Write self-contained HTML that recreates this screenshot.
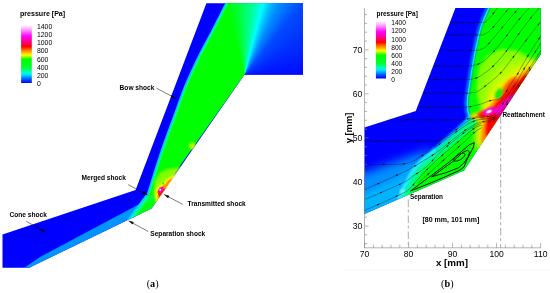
<!DOCTYPE html>
<html><head><meta charset="utf-8"><title>figure</title>
<style>
html,body{margin:0;padding:0;background:#fff;}
svg{display:block}
text{font-family:"Liberation Sans",sans-serif;fill:#000}
.b{font-weight:bold}
.s{font-family:"Liberation Serif",serif}
</style></head><body>
<svg width="550" height="293" viewBox="0 0 550 293">
<defs>
<linearGradient id="lg" x1="0" y1="0" x2="0" y2="1"><stop offset="0" stop-color="#ffffff"/><stop offset="0.09" stop-color="#ff90ff"/><stop offset="0.19" stop-color="#ff00ff"/><stop offset="0.3" stop-color="#ff0070"/><stop offset="0.37" stop-color="#ff0000"/><stop offset="0.45" stop-color="#ff9000"/><stop offset="0.52" stop-color="#ffff00"/><stop offset="0.59" stop-color="#00ff00"/><stop offset="0.74" stop-color="#00ff30"/><stop offset="0.82" stop-color="#00ffd0"/><stop offset="0.86" stop-color="#00e0ff"/><stop offset="0.93" stop-color="#0060ff"/><stop offset="1" stop-color="#0000ff"/></linearGradient>
<clipPath id="ca"><polygon points="206.4,3.2 303.0,3.2 303.0,74.5 244.6,74.5 151.6,208.6 29.2,267.7 2.5,267.7 2.5,234.5 135.6,189.9"/></clipPath>
<clipPath id="cb"><polygon points="455.4,8.0 540.8,8.0 540.8,54.3 464.0,170.6 364.4,214.1 364.4,127.6 415.8,111.1"/></clipPath>
<filter id="b05" x="-20%" y="-20%" width="140%" height="140%"><feGaussianBlur stdDeviation="0.5"/></filter>
<filter id="b1" x="-20%" y="-20%" width="140%" height="140%"><feGaussianBlur stdDeviation="0.8"/></filter>
<filter id="b15" x="-20%" y="-20%" width="140%" height="140%"><feGaussianBlur stdDeviation="1.2"/></filter>
<filter id="b2" x="-20%" y="-20%" width="140%" height="140%"><feGaussianBlur stdDeviation="1.8"/></filter>
<filter id="b3" x="-30%" y="-30%" width="160%" height="160%"><feGaussianBlur stdDeviation="3"/></filter>
<filter id="b5" x="-30%" y="-30%" width="160%" height="160%"><feGaussianBlur stdDeviation="5"/></filter>
<filter id="b8" x="-40%" y="-40%" width="180%" height="180%"><feGaussianBlur stdDeviation="8"/></filter>
<marker id="ar" viewBox="0 0 10 10" refX="9.6" refY="5" markerUnits="userSpaceOnUse" markerWidth="5.8" markerHeight="5.2" orient="auto"><path d="M0,2.4 L10,5 L0,7.6 z" fill="#080808"/></marker>
</defs>
<rect width="550" height="293" fill="#fff"/>

<!-- ============ panel a ============ -->
<g clip-path="url(#ca)">
<rect x="0" y="0" width="320" height="280" fill="#0000ff"/>
<!-- green post-shock region -->
<g filter="url(#b05)">
<polygon points="229.2,-3.0 226.2,3.0 212.5,30.0 199.3,55.0 185.5,85.0 175.5,112.0 164.5,142.0 155.2,170.0 147.5,194.7 152.0,199.0 160.0,192.0 170.0,180.0 244.6,74.5 232.0,-3.0" fill="#00ff00"/>
</g>
<!-- fan in box -->
<g shape-rendering="crispEdges"><polygon points="244.6,74.5 192.8,-118.7 195.5,-119.4" fill="rgb(0,255,1)"/>
<polygon points="244.6,74.5 194.2,-119.0 196.9,-119.7" fill="rgb(0,255,2)"/>
<polygon points="244.6,74.5 195.5,-119.4 198.3,-120.1" fill="rgb(0,255,4)"/>
<polygon points="244.6,74.5 196.9,-119.7 199.6,-120.4" fill="rgb(0,255,6)"/>
<polygon points="244.6,74.5 198.3,-120.1 201.0,-120.7" fill="rgb(0,255,7)"/>
<polygon points="244.6,74.5 199.6,-120.4 202.3,-121.0" fill="rgb(0,255,9)"/>
<polygon points="244.6,74.5 201.0,-120.7 203.7,-121.3" fill="rgb(0,255,12)"/>
<polygon points="244.6,74.5 202.3,-121.0 205.1,-121.6" fill="rgb(0,255,14)"/>
<polygon points="244.6,74.5 203.7,-121.3 206.4,-121.8" fill="rgb(0,255,17)"/>
<polygon points="244.6,74.5 205.1,-121.6 207.8,-122.1" fill="rgb(0,255,19)"/>
<polygon points="244.6,74.5 206.4,-121.8 209.2,-122.3" fill="rgb(0,255,22)"/>
<polygon points="244.6,74.5 207.8,-122.1 210.6,-122.6" fill="rgb(0,255,24)"/>
<polygon points="244.6,74.5 209.2,-122.3 211.9,-122.8" fill="rgb(0,255,26)"/>
<polygon points="244.6,74.5 210.6,-122.6 213.3,-123.0" fill="rgb(0,255,29)"/>
<polygon points="244.6,74.5 211.9,-122.8 214.7,-123.3" fill="rgb(0,255,31)"/>
<polygon points="244.6,74.5 213.3,-123.0 216.1,-123.5" fill="rgb(0,255,34)"/>
<polygon points="244.6,74.5 214.7,-123.3 217.5,-123.6" fill="rgb(0,255,36)"/>
<polygon points="244.6,74.5 216.1,-123.5 218.8,-123.8" fill="rgb(0,255,39)"/>
<polygon points="244.6,74.5 217.5,-123.6 220.2,-124.0" fill="rgb(0,255,41)"/>
<polygon points="244.6,74.5 218.8,-123.8 221.6,-124.2" fill="rgb(0,255,44)"/>
<polygon points="244.6,74.5 220.2,-124.0 223.0,-124.3" fill="rgb(0,255,47)"/>
<polygon points="244.6,74.5 221.6,-124.2 224.4,-124.5" fill="rgb(0,255,50)"/>
<polygon points="244.6,74.5 223.0,-124.3 225.8,-124.6" fill="rgb(0,255,53)"/>
<polygon points="244.6,74.5 224.4,-124.5 227.2,-124.7" fill="rgb(0,255,56)"/>
<polygon points="244.6,74.5 225.8,-124.6 228.6,-124.9" fill="rgb(0,255,59)"/>
<polygon points="244.6,74.5 227.2,-124.7 230.0,-125.0" fill="rgb(0,255,62)"/>
<polygon points="244.6,74.5 228.6,-124.9 231.3,-125.1" fill="rgb(0,255,65)"/>
<polygon points="244.6,74.5 230.0,-125.0 232.7,-125.1" fill="rgb(0,255,69)"/>
<polygon points="244.6,74.5 231.3,-125.1 234.1,-125.2" fill="rgb(0,255,72)"/>
<polygon points="244.6,74.5 232.7,-125.1 235.5,-125.3" fill="rgb(0,255,75)"/>
<polygon points="244.6,74.5 234.1,-125.2 236.9,-125.4" fill="rgb(0,255,78)"/>
<polygon points="244.6,74.5 235.5,-125.3 238.3,-125.4" fill="rgb(0,255,81)"/>
<polygon points="244.6,74.5 236.9,-125.4 239.7,-125.4" fill="rgb(0,255,84)"/>
<polygon points="244.6,74.5 238.3,-125.4 241.1,-125.5" fill="rgb(0,255,87)"/>
<polygon points="244.6,74.5 239.7,-125.4 242.5,-125.5" fill="rgb(0,255,91)"/>
<polygon points="244.6,74.5 241.1,-125.5 243.9,-125.5" fill="rgb(0,255,94)"/>
<polygon points="244.6,74.5 242.5,-125.5 245.3,-125.5" fill="rgb(0,255,97)"/>
<polygon points="244.6,74.5 243.9,-125.5 246.7,-125.5" fill="rgb(0,255,100)"/>
<polygon points="244.6,74.5 245.3,-125.5 248.1,-125.5" fill="rgb(0,255,103)"/>
<polygon points="244.6,74.5 246.7,-125.5 249.5,-125.4" fill="rgb(0,255,106)"/>
<polygon points="244.6,74.5 248.1,-125.5 250.9,-125.4" fill="rgb(0,255,110)"/>
<polygon points="244.6,74.5 249.5,-125.4 252.3,-125.4" fill="rgb(0,255,113)"/>
<polygon points="244.6,74.5 250.9,-125.4 253.7,-125.3" fill="rgb(0,255,116)"/>
<polygon points="244.6,74.5 252.3,-125.4 255.1,-125.2" fill="rgb(0,255,120)"/>
<polygon points="244.6,74.5 253.7,-125.3 256.5,-125.1" fill="rgb(0,255,123)"/>
<polygon points="244.6,74.5 255.1,-125.2 257.9,-125.1" fill="rgb(0,255,126)"/>
<polygon points="244.6,74.5 256.5,-125.1 259.2,-125.0" fill="rgb(0,255,129)"/>
<polygon points="244.6,74.5 257.9,-125.1 260.6,-124.9" fill="rgb(0,255,132)"/>
<polygon points="244.6,74.5 259.2,-125.0 262.0,-124.7" fill="rgb(0,255,136)"/>
<polygon points="244.6,74.5 260.6,-124.9 263.4,-124.6" fill="rgb(0,255,139)"/>
<polygon points="244.6,74.5 262.0,-124.7 264.8,-124.5" fill="rgb(0,255,142)"/>
<polygon points="244.6,74.5 263.4,-124.6 266.2,-124.3" fill="rgb(0,255,145)"/>
<polygon points="244.6,74.5 264.8,-124.5 267.6,-124.2" fill="rgb(0,255,149)"/>
<polygon points="244.6,74.5 266.2,-124.3 269.0,-124.0" fill="rgb(0,255,152)"/>
<polygon points="244.6,74.5 267.6,-124.2 270.4,-123.8" fill="rgb(0,255,155)"/>
<polygon points="244.6,74.5 269.0,-124.0 271.7,-123.6" fill="rgb(0,255,159)"/>
<polygon points="244.6,74.5 270.4,-123.8 273.1,-123.5" fill="rgb(0,255,162)"/>
<polygon points="244.6,74.5 271.7,-123.6 274.5,-123.3" fill="rgb(0,255,165)"/>
<polygon points="244.6,74.5 273.1,-123.5 275.9,-123.0" fill="rgb(0,255,171)"/>
<polygon points="244.6,74.5 274.5,-123.3 277.3,-122.8" fill="rgb(0,255,176)"/>
<polygon points="244.6,74.5 275.9,-123.0 278.6,-122.6" fill="rgb(0,255,182)"/>
<polygon points="244.6,74.5 277.3,-122.8 280.0,-122.3" fill="rgb(0,255,187)"/>
<polygon points="244.6,74.5 278.6,-122.6 281.4,-122.1" fill="rgb(0,255,193)"/>
<polygon points="244.6,74.5 280.0,-122.3 282.8,-121.8" fill="rgb(0,255,198)"/>
<polygon points="244.6,74.5 281.4,-122.1 284.1,-121.6" fill="rgb(0,255,204)"/>
<polygon points="244.6,74.5 282.8,-121.8 285.5,-121.3" fill="rgb(0,255,209)"/>
<polygon points="244.6,74.5 284.1,-121.6 286.9,-121.0" fill="rgb(0,255,215)"/>
<polygon points="244.6,74.5 285.5,-121.3 288.2,-120.7" fill="rgb(0,255,220)"/>
<polygon points="244.6,74.5 286.9,-121.0 289.6,-120.4" fill="rgb(0,255,226)"/>
<polygon points="244.6,74.5 288.2,-120.7 290.9,-120.1" fill="rgb(0,255,231)"/>
<polygon points="244.6,74.5 289.6,-120.4 292.3,-119.7" fill="rgb(0,255,237)"/>
<polygon points="244.6,74.5 290.9,-120.1 293.7,-119.4" fill="rgb(0,255,243)"/>
<polygon points="244.6,74.5 292.3,-119.7 295.0,-119.0" fill="rgb(0,255,248)"/>
<polygon points="244.6,74.5 293.7,-119.4 296.4,-118.7" fill="rgb(0,255,254)"/>
<polygon points="244.6,74.5 295.0,-119.0 297.7,-118.3" fill="rgb(0,251,255)"/>
<polygon points="244.6,74.5 296.4,-118.7 299.1,-117.9" fill="rgb(0,247,255)"/>
<polygon points="244.6,74.5 297.7,-118.3 300.4,-117.6" fill="rgb(0,242,255)"/>
<polygon points="244.6,74.5 299.1,-117.9 301.7,-117.2" fill="rgb(0,237,255)"/>
<polygon points="244.6,74.5 300.4,-117.6 303.1,-116.8" fill="rgb(0,233,255)"/>
<polygon points="244.6,74.5 301.7,-117.2 304.4,-116.3" fill="rgb(0,228,255)"/>
<polygon points="244.6,74.5 303.1,-116.8 305.7,-115.9" fill="rgb(0,223,255)"/>
<polygon points="244.6,74.5 304.4,-116.3 307.1,-115.5" fill="rgb(0,218,255)"/>
<polygon points="244.6,74.5 305.7,-115.9 308.4,-115.1" fill="rgb(0,214,255)"/>
<polygon points="244.6,74.5 307.1,-115.5 309.7,-114.6" fill="rgb(0,209,255)"/>
<polygon points="244.6,74.5 308.4,-115.1 311.0,-114.1" fill="rgb(0,204,255)"/>
<polygon points="244.6,74.5 309.7,-114.6 312.3,-113.7" fill="rgb(0,199,255)"/>
<polygon points="244.6,74.5 311.0,-114.1 313.7,-113.2" fill="rgb(0,195,255)"/>
<polygon points="244.6,74.5 312.3,-113.7 315.0,-112.7" fill="rgb(0,190,255)"/>
<polygon points="244.6,74.5 313.7,-113.2 316.3,-112.2" fill="rgb(0,187,255)"/>
<polygon points="244.6,74.5 315.0,-112.7 317.6,-111.7" fill="rgb(0,183,255)"/>
<polygon points="244.6,74.5 316.3,-112.2 318.9,-111.2" fill="rgb(0,180,255)"/>
<polygon points="244.6,74.5 317.6,-111.7 320.2,-110.7" fill="rgb(0,177,255)"/>
<polygon points="244.6,74.5 318.9,-111.2 321.5,-110.1" fill="rgb(0,173,255)"/>
<polygon points="244.6,74.5 320.2,-110.7 322.7,-109.6" fill="rgb(0,170,255)"/>
<polygon points="244.6,74.5 321.5,-110.1 324.0,-109.1" fill="rgb(0,167,255)"/>
<polygon points="244.6,74.5 322.7,-109.6 325.3,-108.5" fill="rgb(0,163,255)"/>
<polygon points="244.6,74.5 324.0,-109.1 326.6,-107.9" fill="rgb(0,160,255)"/>
<polygon points="244.6,74.5 325.3,-108.5 327.9,-107.3" fill="rgb(0,157,255)"/>
<polygon points="244.6,74.5 326.6,-107.9 329.1,-106.8" fill="rgb(0,153,255)"/>
<polygon points="244.6,74.5 327.9,-107.3 330.4,-106.2" fill="rgb(0,150,255)"/>
<polygon points="244.6,74.5 329.1,-106.8 331.6,-105.6" fill="rgb(0,147,255)"/>
<polygon points="244.6,74.5 330.4,-106.2 332.9,-105.0" fill="rgb(0,143,255)"/>
<polygon points="244.6,74.5 331.6,-105.6 334.2,-104.3" fill="rgb(0,140,255)"/>
<polygon points="244.6,74.5 332.9,-105.0 335.4,-103.7" fill="rgb(0,138,255)"/>
<polygon points="244.6,74.5 334.2,-104.3 336.6,-103.1" fill="rgb(0,136,255)"/>
<polygon points="244.6,74.5 335.4,-103.7 337.9,-102.4" fill="rgb(0,134,255)"/>
<polygon points="244.6,74.5 336.6,-103.1 339.1,-101.8" fill="rgb(0,132,255)"/>
<polygon points="244.6,74.5 337.9,-102.4 340.3,-101.1" fill="rgb(0,130,255)"/>
<polygon points="244.6,74.5 339.1,-101.8 341.6,-100.4" fill="rgb(0,128,255)"/>
<polygon points="244.6,74.5 340.3,-101.1 342.8,-99.7" fill="rgb(0,126,255)"/>
<polygon points="244.6,74.5 341.6,-100.4 344.0,-99.1" fill="rgb(0,124,255)"/>
<polygon points="244.6,74.5 342.8,-99.7 345.2,-98.4" fill="rgb(0,122,255)"/>
<polygon points="244.6,74.5 344.0,-99.1 346.4,-97.6" fill="rgb(0,120,255)"/>
<polygon points="244.6,74.5 345.2,-98.4 347.6,-96.9" fill="rgb(0,118,255)"/>
<polygon points="244.6,74.5 346.4,-97.6 348.8,-96.2" fill="rgb(0,116,255)"/>
<polygon points="244.6,74.5 347.6,-96.9 350.0,-95.5" fill="rgb(0,114,255)"/>
<polygon points="244.6,74.5 348.8,-96.2 351.2,-94.7" fill="rgb(0,112,255)"/>
<polygon points="244.6,74.5 350.0,-95.5 352.4,-94.0" fill="rgb(0,110,255)"/>
<polygon points="244.6,74.5 351.2,-94.7 353.5,-93.2" fill="rgb(0,108,255)"/>
<polygon points="244.6,74.5 352.4,-94.0 354.7,-92.5" fill="rgb(0,106,255)"/>
<polygon points="244.6,74.5 353.5,-93.2 355.9,-91.7" fill="rgb(0,104,255)"/>
<polygon points="244.6,74.5 354.7,-92.5 357.0,-90.9" fill="rgb(0,102,255)"/>
<polygon points="244.6,74.5 355.9,-91.7 358.2,-90.1" fill="rgb(0,100,255)"/>
<polygon points="244.6,74.5 357.0,-90.9 359.3,-89.3" fill="rgb(0,98,255)"/>
<polygon points="244.6,74.5 358.2,-90.1 360.5,-88.5" fill="rgb(0,96,255)"/>
<polygon points="244.6,74.5 359.3,-89.3 361.6,-87.7" fill="rgb(0,94,255)"/>
<polygon points="244.6,74.5 360.5,-88.5 362.7,-86.9" fill="rgb(0,92,255)"/>
<polygon points="244.6,74.5 361.6,-87.7 363.8,-86.1" fill="rgb(0,90,255)"/>
<polygon points="244.6,74.5 362.7,-86.9 365.0,-85.2" fill="rgb(0,88,255)"/>
<polygon points="244.6,74.5 363.8,-86.1 366.1,-84.4" fill="rgb(0,86,255)"/>
<polygon points="244.6,74.5 365.0,-85.2 367.2,-83.5" fill="rgb(0,84,255)"/>
<polygon points="244.6,74.5 366.1,-84.4 368.3,-82.7" fill="rgb(0,82,255)"/>
<polygon points="244.6,74.5 367.2,-83.5 369.4,-81.8" fill="rgb(0,80,255)"/>
<polygon points="244.6,74.5 368.3,-82.7 370.5,-80.9" fill="rgb(0,78,255)"/>
<polygon points="244.6,74.5 369.4,-81.8 371.5,-80.0" fill="rgb(0,76,255)"/>
<polygon points="244.6,74.5 370.5,-80.9 372.6,-79.2" fill="rgb(0,75,255)"/>
<polygon points="244.6,74.5 371.5,-80.0 373.7,-78.3" fill="rgb(0,74,255)"/>
<polygon points="244.6,74.5 372.6,-79.2 374.8,-77.4" fill="rgb(0,74,255)"/>
<polygon points="244.6,74.5 373.7,-78.3 375.8,-76.4" fill="rgb(0,73,255)"/>
<polygon points="244.6,74.5 374.8,-77.4 376.9,-75.5" fill="rgb(0,72,255)"/>
<polygon points="244.6,74.5 375.8,-76.4 377.9,-74.6" fill="rgb(0,72,255)"/>
<polygon points="244.6,74.5 376.9,-75.5 378.9,-73.7" fill="rgb(0,71,255)"/>
<polygon points="244.6,74.5 377.9,-74.6 380.0,-72.7" fill="rgb(0,71,255)"/>
<polygon points="244.6,74.5 378.9,-73.7 381.0,-71.8" fill="rgb(0,70,255)"/>
<polygon points="244.6,74.5 380.0,-72.7 382.0,-70.8" fill="rgb(0,70,255)"/>
<polygon points="244.6,74.5 381.0,-71.8 383.0,-69.9" fill="rgb(0,69,255)"/>
<polygon points="244.6,74.5 382.0,-70.8 384.0,-68.9" fill="rgb(0,68,255)"/>
<polygon points="244.6,74.5 383.0,-69.9 385.0,-67.9" fill="rgb(0,68,255)"/>
<polygon points="244.6,74.5 384.0,-68.9 386.0,-66.9" fill="rgb(0,67,255)"/>
<polygon points="244.6,74.5 385.0,-67.9 387.0,-65.9" fill="rgb(0,67,255)"/>
<polygon points="244.6,74.5 386.0,-66.9 388.0,-64.9" fill="rgb(0,66,255)"/>
<polygon points="244.6,74.5 387.0,-65.9 389.0,-63.9" fill="rgb(0,66,255)"/>
<polygon points="244.6,74.5 388.0,-64.9 389.9,-62.9" fill="rgb(0,65,255)"/>
<polygon points="244.6,74.5 389.0,-63.9 390.9,-61.9" fill="rgb(0,64,255)"/>
<polygon points="244.6,74.5 389.9,-62.9 391.8,-60.9" fill="rgb(0,64,255)"/>
<polygon points="244.6,74.5 390.9,-61.9 392.8,-59.8" fill="rgb(0,63,255)"/>
<polygon points="244.6,74.5 391.8,-60.9 393.7,-58.8" fill="rgb(0,63,255)"/>
<polygon points="244.6,74.5 392.8,-59.8 394.6,-57.8" fill="rgb(0,62,255)"/>
<polygon points="244.6,74.5 393.7,-58.8 395.5,-56.7" fill="rgb(0,62,255)"/>
<polygon points="244.6,74.5 394.6,-57.8 396.5,-55.7" fill="rgb(0,61,255)"/>
<polygon points="244.6,74.5 395.5,-56.7 397.4,-54.6" fill="rgb(0,60,255)"/>
<polygon points="244.6,74.5 396.5,-55.7 398.3,-53.5" fill="rgb(0,60,255)"/>
<polygon points="244.6,74.5 397.4,-54.6 399.1,-52.4" fill="rgb(0,59,255)"/>
<polygon points="244.6,74.5 398.3,-53.5 400.0,-51.4" fill="rgb(0,59,255)"/>
<polygon points="244.6,74.5 399.1,-52.4 400.9,-50.3" fill="rgb(0,58,255)"/>
<polygon points="244.6,74.5 400.0,-51.4 401.8,-49.2" fill="rgb(0,58,255)"/>
<polygon points="244.6,74.5 400.9,-50.3 402.6,-48.1" fill="rgb(0,57,255)"/>
<polygon points="244.6,74.5 401.8,-49.2 403.5,-47.0" fill="rgb(0,56,255)"/>
<polygon points="244.6,74.5 402.6,-48.1 404.3,-45.9" fill="rgb(0,56,255)"/>
<polygon points="244.6,74.5 403.5,-47.0 405.2,-44.7" fill="rgb(0,55,255)"/>
<polygon points="244.6,74.5 404.3,-45.9 406.0,-43.6" fill="rgb(0,55,255)"/>
<polygon points="244.6,74.5 405.2,-44.7 406.8,-42.5" fill="rgb(0,54,255)"/>
<polygon points="244.6,74.5 406.0,-43.6 407.6,-41.4" fill="rgb(0,54,255)"/>
<polygon points="244.6,74.5 406.8,-42.5 408.4,-40.2" fill="rgb(0,53,255)"/>
<polygon points="244.6,74.5 407.6,-41.4 409.2,-39.1" fill="rgb(0,52,255)"/>
<polygon points="244.6,74.5 408.4,-40.2 410.0,-37.9" fill="rgb(0,52,255)"/>
<polygon points="244.6,74.5 409.2,-39.1 410.8,-36.8" fill="rgb(0,51,255)"/>
<polygon points="244.6,74.5 410.0,-37.9 411.6,-35.6" fill="rgb(0,51,255)"/>
<polygon points="244.6,74.5 410.8,-36.8 412.3,-34.4" fill="rgb(0,50,255)"/>
<polygon points="244.6,74.5 411.6,-35.6 413.1,-33.3" fill="rgb(0,50,255)"/>
<polygon points="244.6,74.5 412.3,-34.4 413.8,-32.1" fill="rgb(0,49,255)"/>
<polygon points="244.6,74.5 413.1,-33.3 414.6,-30.9" fill="rgb(0,48,255)"/>
<polygon points="244.6,74.5 413.8,-32.1 415.3,-29.7" fill="rgb(0,48,255)"/>
<polygon points="244.6,74.5 414.6,-30.9 416.0,-28.5" fill="rgb(0,47,255)"/>
<polygon points="244.6,74.5 415.3,-29.7 416.7,-27.3" fill="rgb(0,47,255)"/>
<polygon points="244.6,74.5 416.0,-28.5 417.5,-26.1" fill="rgb(0,46,255)"/>
<polygon points="244.6,74.5 416.7,-27.3 418.2,-24.9" fill="rgb(0,46,255)"/>
<polygon points="244.6,74.5 417.5,-26.1 418.8,-23.7" fill="rgb(0,45,255)"/>
<polygon points="244.6,74.5 418.2,-24.9 419.5,-22.5" fill="rgb(0,45,255)"/>
<polygon points="244.6,74.5 418.8,-23.7 420.2,-21.2" fill="rgb(0,44,255)"/>
<polygon points="244.6,74.5 419.5,-22.5 420.9,-20.0" fill="rgb(0,44,255)"/>
<polygon points="244.6,74.5 420.2,-21.2 421.5,-18.8" fill="rgb(0,43,255)"/>
<polygon points="244.6,74.5 420.9,-20.0 422.2,-17.5" fill="rgb(0,43,255)"/>
<polygon points="244.6,74.5 421.5,-18.8 422.8,-16.3" fill="rgb(0,42,255)"/>
<polygon points="244.6,74.5 422.2,-17.5 423.4,-15.1" fill="rgb(0,42,255)"/>
<polygon points="244.6,74.5 422.8,-16.3 424.1,-13.8" fill="rgb(0,41,255)"/>
<polygon points="244.6,74.5 423.4,-15.1 424.7,-12.5" fill="rgb(0,41,255)"/>
<polygon points="244.6,74.5 424.1,-13.8 425.3,-11.3" fill="rgb(0,41,255)"/>
<polygon points="244.6,74.5 424.7,-12.5 425.9,-10.0" fill="rgb(0,40,255)"/>
<polygon points="244.6,74.5 425.3,-11.3 426.4,-8.8" fill="rgb(0,40,255)"/>
<polygon points="244.6,74.5 425.9,-10.0 427.0,-7.5" fill="rgb(0,39,255)"/>
<polygon points="244.6,74.5 426.4,-8.8 427.6,-6.2" fill="rgb(0,39,255)"/>
<polygon points="244.6,74.5 427.0,-7.5 428.2,-4.9" fill="rgb(0,38,255)"/>
<polygon points="244.6,74.5 427.6,-6.2 428.7,-3.6" fill="rgb(0,38,255)"/>
<polygon points="244.6,74.5 428.2,-4.9 429.2,-2.4" fill="rgb(0,38,255)"/>
<polygon points="244.6,74.5 428.7,-3.6 429.8,-1.1" fill="rgb(0,37,255)"/>
<polygon points="244.6,74.5 429.2,-2.4 430.3,0.2" fill="rgb(0,37,255)"/>
<polygon points="244.6,74.5 429.8,-1.1 430.8,1.5" fill="rgb(0,36,255)"/>
<polygon points="244.6,74.5 430.3,0.2 431.3,2.8" fill="rgb(0,36,255)"/>
<polygon points="244.6,74.5 430.8,1.5 431.8,4.1" fill="rgb(0,35,255)"/>
<polygon points="244.6,74.5 431.3,2.8 432.3,5.4" fill="rgb(0,35,255)"/>
<polygon points="244.6,74.5 431.8,4.1 432.8,6.8" fill="rgb(0,34,255)"/>
<polygon points="244.6,74.5 432.3,5.4 433.2,8.1" fill="rgb(0,34,255)"/>
<polygon points="244.6,74.5 432.8,6.8 433.7,9.4" fill="rgb(0,34,255)"/>
<polygon points="244.6,74.5 433.2,8.1 434.2,10.7" fill="rgb(0,33,255)"/>
<polygon points="244.6,74.5 433.7,9.4 434.6,12.0" fill="rgb(0,33,255)"/>
<polygon points="244.6,74.5 434.2,10.7 435.0,13.4" fill="rgb(0,32,255)"/>
<polygon points="244.6,74.5 434.6,12.0 435.4,14.7" fill="rgb(0,32,255)"/>
<polygon points="244.6,74.5 435.0,13.4 435.9,16.0" fill="rgb(0,31,255)"/>
<polygon points="244.6,74.5 435.4,14.7 436.3,17.4" fill="rgb(0,31,255)"/>
<polygon points="244.6,74.5 435.9,16.0 436.7,18.7" fill="rgb(0,30,255)"/>
<polygon points="244.6,74.5 436.3,17.4 437.0,20.0" fill="rgb(0,30,255)"/>
<polygon points="244.6,74.5 436.7,18.7 437.4,21.4" fill="rgb(0,30,255)"/>
<polygon points="244.6,74.5 437.0,20.0 437.8,22.7" fill="rgb(0,29,255)"/>
<polygon points="244.6,74.5 437.4,21.4 438.1,24.1" fill="rgb(0,29,255)"/>
<polygon points="244.6,74.5 437.8,22.7 438.5,25.4" fill="rgb(0,28,255)"/>
<polygon points="244.6,74.5 438.1,24.1 438.8,26.8" fill="rgb(0,28,255)"/>
<polygon points="244.6,74.5 438.5,25.4 439.2,28.2" fill="rgb(0,27,255)"/>
<polygon points="244.6,74.5 438.8,26.8 439.5,29.5" fill="rgb(0,27,255)"/>
<polygon points="244.6,74.5 439.2,28.2 439.8,30.9" fill="rgb(0,27,255)"/>
<polygon points="244.6,74.5 439.5,29.5 440.1,32.2" fill="rgb(0,26,255)"/>
<polygon points="244.6,74.5 439.8,30.9 440.4,33.6" fill="rgb(0,26,255)"/>
<polygon points="244.6,74.5 440.1,32.2 440.7,35.0" fill="rgb(0,25,255)"/>
<polygon points="244.6,74.5 440.4,33.6 440.9,36.3" fill="rgb(0,25,255)"/>
<polygon points="244.6,74.5 440.7,35.0 441.2,37.7" fill="rgb(0,24,255)"/>
<polygon points="244.6,74.5 440.9,36.3 441.4,39.1" fill="rgb(0,24,255)"/>
<polygon points="244.6,74.5 441.2,37.7 441.7,40.5" fill="rgb(0,23,255)"/>
<polygon points="244.6,74.5 441.4,39.1 441.9,41.8" fill="rgb(0,23,255)"/>
<polygon points="244.6,74.5 441.7,40.5 442.1,43.2" fill="rgb(0,23,255)"/>
<polygon points="244.6,74.5 441.9,41.8 442.4,44.6" fill="rgb(0,22,255)"/>
<polygon points="244.6,74.5 442.1,43.2 442.6,46.0" fill="rgb(0,22,255)"/>
<polygon points="244.6,74.5 442.4,44.6 442.7,47.4" fill="rgb(0,21,255)"/>
<polygon points="244.6,74.5 442.6,46.0 442.9,48.7" fill="rgb(0,21,255)"/>
<polygon points="244.6,74.5 442.7,47.4 443.1,50.1" fill="rgb(0,20,255)"/>
<polygon points="244.6,74.5 442.9,48.7 443.3,51.5" fill="rgb(0,20,255)"/>
<polygon points="244.6,74.5 443.1,50.1 443.4,52.9" fill="rgb(0,19,255)"/>
<polygon points="244.6,74.5 443.3,51.5 443.6,54.3" fill="rgb(0,19,255)"/>
<polygon points="244.6,74.5 443.4,52.9 443.7,55.7" fill="rgb(0,19,255)"/>
<polygon points="244.6,74.5 443.6,54.3 443.8,57.1" fill="rgb(0,18,255)"/>
<polygon points="244.6,74.5 443.7,55.7 444.0,58.5" fill="rgb(0,18,255)"/>
<polygon points="244.6,74.5 443.8,57.1 444.1,59.9" fill="rgb(0,17,255)"/>
<polygon points="244.6,74.5 444.0,58.5 444.2,61.2" fill="rgb(0,17,255)"/>
<polygon points="244.6,74.5 444.1,59.9 444.2,62.6" fill="rgb(0,16,255)"/>
<polygon points="244.6,74.5 444.2,61.2 444.3,64.0" fill="rgb(0,16,255)"/>
<polygon points="244.6,74.5 444.2,62.6 444.4,65.4" fill="rgb(0,16,255)"/>
<polygon points="244.6,74.5 444.3,64.0 444.5,66.8" fill="rgb(0,15,255)"/>
<polygon points="244.6,74.5 444.4,65.4 444.5,68.2" fill="rgb(0,15,255)"/>
<polygon points="244.6,74.5 444.5,66.8 444.5,69.6" fill="rgb(0,14,255)"/>
<polygon points="244.6,74.5 444.5,68.2 444.6,71.0" fill="rgb(0,14,255)"/>
<polygon points="244.6,74.5 444.5,69.6 444.6,72.4" fill="rgb(0,13,255)"/>
<polygon points="244.6,74.5 444.6,71.0 444.6,73.8" fill="rgb(0,13,255)"/>
<polygon points="244.6,74.5 444.6,72.4 444.6,75.2" fill="rgb(0,12,255)"/>
<polygon points="244.6,74.5 444.6,73.8 444.6,76.6" fill="rgb(0,12,255)"/>
<polygon points="244.6,74.5 444.6,75.2 444.6,78.0" fill="rgb(0,10,255)"/>
<polygon points="244.6,74.5 444.6,76.6 444.5,79.4" fill="rgb(0,9,255)"/>
<polygon points="244.6,74.5 444.6,78.0 444.5,80.8" fill="rgb(0,7,255)"/>
<polygon points="244.6,74.5 444.5,79.4 444.5,82.2" fill="rgb(0,6,255)"/>
<polygon points="244.6,74.5 444.5,80.8 444.4,83.6" fill="rgb(0,4,255)"/>
<polygon points="244.6,74.5 444.5,82.2 444.3,85.0" fill="rgb(0,2,255)"/>
<polygon points="244.6,74.5 444.4,83.6 444.2,86.4" fill="rgb(0,1,255)"/></g>
<!-- bow shock cyan edge -->
<path d="M229.2,-3.0 C228.7,-2.0 229.0,-2.5 226.2,3.0 C223.4,8.5 217.0,21.3 212.5,30.0 C208.0,38.7 203.8,45.8 199.3,55.0 C194.8,64.2 189.5,75.5 185.5,85.0 C181.5,94.5 179.0,102.5 175.5,112.0 C172.0,121.5 167.9,132.3 164.5,142.0 C161.1,151.7 158.0,161.2 155.2,170.0 C152.4,178.8 148.8,190.6 147.5,194.7" fill="none" stroke="#00ff90" stroke-width="1.6" filter="url(#b05)" transform="translate(1.3,0)"/>
<path d="M229.2,-3.0 C228.7,-2.0 229.0,-2.5 226.2,3.0 C223.4,8.5 217.0,21.3 212.5,30.0 C208.0,38.7 203.8,45.8 199.3,55.0 C194.8,64.2 189.5,75.5 185.5,85.0 C181.5,94.5 179.0,102.5 175.5,112.0 C172.0,121.5 167.9,132.3 164.5,142.0 C161.1,151.7 158.0,161.2 155.2,170.0 C152.4,178.8 148.8,190.6 147.5,194.7" fill="none" stroke="#00c8ff" stroke-width="1.3" filter="url(#b05)" transform="translate(-0.2,0)"/>
<!-- lower channel light-blue band after cone shock -->
<polygon points="24.0,268.0 40.0,257.0 70.0,241.1 139.6,204.1 142.5,200.5 140.0,215.0 128.7,219.6 29.2,268.0" fill="#0094ff"/>
<!-- separation zone -->
<g filter="url(#b05)">
<polygon points="128.7,219.6 147.1,195.0 153.0,197.0 162.0,190.0 151.6,208.6 140.0,214.5" fill="#00ff48"/>
<polygon points="136.0,216.8 148.0,200.0 156.0,198.0 158.0,200.0 151.6,208.6" fill="#00ff10"/>
<path d="M128.2,220.1 L146.79999999999998,195" stroke="#00d8ff" stroke-width="2" fill="none"/>
<path d="M130.5,220.1 L148.7,196" stroke="#00ffb0" stroke-width="1.6" fill="none"/>
</g>
<!-- yellowish glow -->
<g filter="url(#b15)">
<polygon points="153.5,193.0 154.5,182.0 159.0,173.5 167.0,169.0 176.0,168.0 181.0,166.0 166.0,190.0 158.0,201.0" fill="#80ff00"/>
<circle cx="192.3" cy="146" r="3.4" fill="#b0ff00"/>
</g>
<!-- hot spot -->
<g filter="url(#b1)">
<polygon points="157.8,203.2 160.0,200.1 162.1,197.0 164.3,193.8 166.4,190.7 168.6,187.6 170.7,184.5 172.9,181.4 175.0,178.3 177.2,175.2 175.1,173.8 171.7,176.0 168.3,178.2 165.0,180.5 162.0,183.1 159.0,185.6 156.5,188.4 155.1,192.1 155.0,196.6 155.7,201.7" fill="#fff000"/>
</g>
<g filter="url(#b05)">
<polygon points="159.5,200.7 161.5,197.8 163.6,194.8 165.6,191.9 167.7,189.0 169.7,186.0 171.7,183.1 173.8,180.1 171.3,178.4 168.1,180.6 165.9,183.4 163.1,185.8 159.9,187.9 158.3,191.2 157.8,195.1 157.5,199.3" fill="#ff9800"/>
<polygon points="161.2,198.2 162.3,196.7 163.3,195.2 164.4,193.7 165.4,192.2 166.4,190.7 167.5,189.2 165.4,187.8 163.8,188.9 161.6,189.6 159.1,190.1 157.7,191.3 158.2,193.9 159.2,196.8" fill="#ff1800"/>
<polygon points="157.2,192.6 159.4,187.8 163.6,186.4 163.4,189.4 160.6,193.0" fill="#ff00d0"/>
<circle cx="160.2" cy="189.8" r="0.95" fill="#fff"/>
<circle cx="163.2" cy="183.6" r="1.0" fill="#20e020"/>
</g>
</g>
<text x="20" y="16.4" class="b" font-size="7.07">pressure [Pa]</text>
<rect x="21.1" y="25" width="10.7" height="58" fill="url(#lg)"/>
<text x="36.9" y="28.70" font-size="6.9">1400</text>
<text x="36.9" y="36.90" font-size="6.9">1200</text>
<text x="36.9" y="45.10" font-size="6.9">1000</text>
<text x="36.9" y="53.30" font-size="6.9">800</text>
<text x="36.9" y="61.50" font-size="6.9">600</text>
<text x="36.9" y="69.70" font-size="6.9">400</text>
<text x="36.9" y="77.90" font-size="6.9">200</text>
<text x="36.9" y="86.10" font-size="6.9">0</text>
<!-- labels a -->
<g class="b" font-size="6.6">
<text x="119.6" y="89.5">Bow shock</text>
<text x="81.5" y="180">Merged shock</text>
<text x="187.5" y="205.5">Transmitted shock</text>
<text x="9.5" y="216.9">Cone shock</text>
<text x="150.3" y="236.1">Separation shock</text>
</g>
<g stroke="#111" stroke-width="0.55">
<line x1="156.4" y1="88.1" x2="175.6" y2="98.3" marker-end="url(#ar)"/>
<line x1="128.1" y1="184.6" x2="147.3" y2="194.8" marker-end="url(#ar)"/>
<line x1="182.7" y1="204.4" x2="164.3" y2="194.6" marker-end="url(#ar)"/>
<line x1="26.2" y1="221.3" x2="45.4" y2="231.9" marker-end="url(#ar)"/>
<line x1="148.2" y1="231.5" x2="128.7" y2="220.9" marker-end="url(#ar)"/>
</g>
<text x="152.6" y="287" class="s" font-size="10.2" text-anchor="middle">(<tspan font-weight="bold">a</tspan>)</text>

<!-- ============ panel b ============ -->
<g clip-path="url(#cb)">
<rect x="360" y="0" width="190" height="230" fill="#0000ff"/>
<!-- lighter blue post cone-shock -->
<g filter="url(#b5)">
<polygon points="345.0,180.0 400.0,160.0 432.0,148.0 412.0,182.0 402.0,202.0 345.0,228.0" fill="#0090ff"/>
</g>
<g filter="url(#b3)">
<polygon points="345.0,203.0 396.0,180.0 413.0,166.0 405.0,190.0 400.0,203.0 345.0,228.0" fill="#00b4ff"/>
</g>
<!-- cyan edge under green -->
<path d="M491.0,3.0 C490.7,3.9 490.8,4.2 489.2,8.2 C487.6,12.2 483.7,20.0 481.5,27.0 C479.3,34.0 477.8,41.2 476.0,50.0 C474.2,58.8 472.1,71.7 470.8,80.0 C469.5,88.3 468.4,94.8 468.0,100.0 C467.6,105.2 468.2,108.3 468.5,111.0 C468.8,113.7 469.8,115.2 470.0,116.0" fill="none" stroke="#0070ff" stroke-width="3.2" filter="url(#b1)" transform="translate(-1.9,0)"/>
<path d="M470.5,116.0 C469.9,117.0 468.8,119.9 467.0,122.0 C465.2,124.1 463.6,125.6 460.0,128.8 C456.4,132.1 450.3,137.2 445.5,141.5 C440.7,145.8 434.9,151.0 431.0,154.3 C427.1,157.6 424.8,158.8 422.0,161.5 C419.2,164.2 416.3,167.2 414.0,170.5 C411.7,173.8 410.0,177.2 408.0,181.0 C406.0,184.8 403.5,189.8 402.0,193.0 C400.5,196.2 399.5,198.8 399.0,200.0" fill="none" stroke="#0050ff" stroke-width="2" filter="url(#b1)" transform="translate(-1.5,-0.9)"/>
<g filter="url(#b1)">
<path d="M491.0,3.0 C490.7,3.9 490.8,4.2 489.2,8.2 C487.6,12.2 483.7,20.0 481.5,27.0 C479.3,34.0 477.8,41.2 476.0,50.0 C474.2,58.8 472.1,71.7 470.8,80.0 C469.5,88.3 468.4,94.8 468.0,100.0 C467.6,105.2 468.2,108.3 468.5,111.0 C468.8,113.7 469.8,115.2 470.0,116.0 L467.0,122.0 L460.0,128.8 L445.5,141.5 L431.0,154.3 L422.0,161.5 L414.0,170.5 L408.0,181.0 L402.0,193.0 L399.0,200.0 L420.0,215.0 L470.0,175.0 L548.0,55.0 L548.0,0.0 Z" fill="#00ff00"/>
</g>
<path d="M470.5,116.0 C469.9,117.0 468.8,119.9 467.0,122.0 C465.2,124.1 463.6,125.6 460.0,128.8 C456.4,132.1 450.3,137.2 445.5,141.5 C440.7,145.8 434.9,151.0 431.0,154.3 C427.1,157.6 424.8,158.8 422.0,161.5 C419.2,164.2 416.3,167.2 414.0,170.5 C411.7,173.8 410.0,177.2 408.0,181.0 C406.0,184.8 403.5,189.8 402.0,193.0 C400.5,196.2 399.5,198.8 399.0,200.0" fill="none" stroke="#00ff90" stroke-width="6" filter="url(#b2)" transform="translate(4.2,2.2)"/>
<path d="M491.0,3.0 C490.7,3.9 490.8,4.2 489.2,8.2 C487.6,12.2 483.7,20.0 481.5,27.0 C479.3,34.0 477.8,41.2 476.0,50.0 C474.2,58.8 472.1,71.7 470.8,80.0 C469.5,88.3 468.4,94.8 468.0,100.0 C467.6,105.2 468.2,108.3 468.5,111.0 C468.8,113.7 469.8,115.2 470.0,116.0" fill="none" stroke="#00e8ff" stroke-width="1.4" filter="url(#b05)" transform="translate(-0.5,0)"/>
<path d="M470.5,116.0 C469.9,117.0 468.8,119.9 467.0,122.0 C465.2,124.1 463.6,125.6 460.0,128.8 C456.4,132.1 450.3,137.2 445.5,141.5 C440.7,145.8 434.9,151.0 431.0,154.3 C427.1,157.6 424.8,158.8 422.0,161.5 C419.2,164.2 416.3,167.2 414.0,170.5 C411.7,173.8 410.0,177.2 408.0,181.0 C406.0,184.8 403.5,189.8 402.0,193.0 C400.5,196.2 399.5,198.8 399.0,200.0" fill="none" stroke="#00e4ff" stroke-width="3.4" filter="url(#b1)" transform="translate(-0.6,-0.3)"/>
<path d="M436.0,149.5 C435.2,150.3 433.3,152.3 431.0,154.3 C428.7,156.3 424.8,158.8 422.0,161.5 C419.2,164.2 416.3,167.2 414.0,170.5 C411.7,173.8 410.0,177.2 408.0,181.0 C406.0,184.8 403.5,189.8 402.0,193.0 C400.5,196.2 399.5,198.8 399.0,200.0" fill="none" stroke="#20e8ff" stroke-width="4.6" filter="url(#b15)" transform="translate(-0.4,-0.2)"/>
<circle cx="402.5" cy="191.5" r="2.5" fill="#70f4ff" filter="url(#b15)"/>
<!-- yellowish-green glow -->
<g filter="url(#b2)">
<polygon points="483.0,112.0 478.0,100.0 476.0,88.0 479.0,67.5 487.5,55.6 501.0,49.0 518.0,50.5 532.0,60.0 545.0,60.0 505.0,120.0" fill="#80ff00"/>
</g>
<g filter="url(#b5)">
<polygon points="486.0,108.0 485.0,92.0 492.0,74.0 506.0,62.0 522.0,60.0 540.0,62.0 505.0,116.0" fill="#b8ff00"/>
</g>
<g filter="url(#b3)">
<polygon points="480.0,150.0 486.4,140.4 492.7,130.7 499.1,121.1 505.5,111.5 511.8,101.8 518.2,92.2 524.6,82.6 530.9,72.9 537.3,63.3 533.1,60.5 522.6,67.4 512.1,74.3 502.4,81.7 494.3,90.3 487.9,99.9 482.4,110.1 478.1,121.1 475.5,133.2 475.8,147.3" fill="#ffee00"/>
</g>
<g filter="url(#b2)">
<polygon points="483.9,144.2 489.3,135.9 494.7,127.7 500.2,119.4 505.6,111.2 511.1,102.9 516.5,94.7 522.0,86.4 527.4,78.2 532.9,70.0 529.6,67.8 521.6,74.3 513.2,80.7 505.3,87.3 498.2,94.4 492.3,102.4 487.7,111.2 483.9,120.5 481.8,131.0 481.3,142.5" fill="#ff8000"/>
<polygon points="470.0,114.5 480.0,112.0 486.0,116.0 480.0,121.0 472.0,118.5" fill="#ffd000"/>
</g>
<g filter="url(#b2)">
<ellipse cx="510" cy="88.5" rx="6.5" ry="13" fill="#ff7000" transform="rotate(33.4 510 88.5)"/>
<ellipse cx="511" cy="88.5" rx="4.2" ry="10" fill="#ff3000" transform="rotate(33.4 511 88.5)"/>
</g>
<g filter="url(#b15)">
<polygon points="488.3,137.5 492.7,130.7 497.2,124.0 501.7,117.2 506.1,110.4 510.6,103.7 515.1,96.9 519.5,90.2 524.0,83.4 528.5,76.6 525.6,74.7 519.4,80.4 513.3,86.0 507.2,91.7 501.4,97.6 496.1,103.8 491.2,110.3 488.0,117.9 486.1,126.3 486.2,136.1" fill="#ff0000"/>
<polygon points="477.0,114.0 484.0,110.0 489.0,116.0 482.0,119.5" fill="#ff2000"/>
</g>
<g filter="url(#b1)">
<polygon points="500.4,119.2 502.7,115.7 504.9,112.2 507.2,108.8 509.5,105.3 511.8,101.9 514.1,98.4 516.4,95.0 513.9,93.3 510.2,95.9 506.5,98.4 503.2,101.2 500.2,104.2 498.3,107.8 497.7,112.4 498.3,117.8" fill="#ff00d8"/>
<polygon points="492.0,113.5 497.0,106.5 505.0,101.0 509.0,99.0 506.0,106.0 499.0,114.0" fill="#ff00d8"/>
<ellipse cx="489.5" cy="111.6" rx="7" ry="3.6" fill="#ff00d8" transform="rotate(-22 488.8 111.8)"/>
<ellipse cx="498.8" cy="93.5" rx="3.3" ry="5.6" fill="#10f010" transform="rotate(25 498.8 93.5)"/>
</g>
<ellipse cx="489" cy="111.6" rx="2.9" ry="1.5" fill="#fff" filter="url(#b05)" transform="rotate(-22 489 111.6)"/>
<!-- streamlines -->
<g fill="none" stroke="#081008" stroke-width="0.45" opacity="0.8">
<path d="M440.0,22.4 C447.0,22.4 474.3,22.6 482.0,22.4 C489.7,22.2 484.5,22.2 486.0,21.2 C487.5,20.2 489.0,18.9 491.0,16.5 C493.0,14.1 496.8,8.6 498.0,7.0"/><path d="M436.0,35.0 C443.1,35.0 470.5,35.1 478.5,35.0 C486.5,34.9 482.1,35.0 484.0,34.2 C485.9,33.5 487.3,33.0 490.0,30.5 C492.7,28.0 496.7,22.9 500.0,19.0 C503.3,15.1 508.3,9.0 510.0,7.0"/><path d="M430.0,50.4 C437.3,50.4 465.7,50.5 474.0,50.4 C482.3,50.2 478.0,50.1 480.0,49.5 C482.0,48.9 483.3,48.9 486.0,46.5 C488.7,44.1 492.3,39.3 496.0,35.0 C499.7,30.7 504.0,25.2 508.0,20.5 C512.0,15.8 518.0,9.2 520.0,7.0"/><path d="M424.0,66.0 C431.0,66.0 457.7,66.2 466.0,66.1 C474.3,66.0 471.6,65.7 474.0,65.2 C476.4,64.7 477.8,64.6 480.5,63.0 C483.2,61.4 486.1,59.5 490.0,55.5 C493.9,51.5 499.5,44.6 504.0,39.0 C508.5,33.4 512.7,27.3 517.0,22.0 C521.3,16.7 527.8,9.5 530.0,7.0"/><path d="M418.0,79.5 C426.0,79.5 456.7,79.8 466.0,79.6 C475.3,79.4 471.6,79.0 474.0,78.4 C476.4,77.8 477.4,78.0 480.5,76.0 C483.6,74.0 488.8,70.3 492.7,66.6 C496.6,62.9 500.0,58.9 504.0,54.0 C508.0,49.1 512.6,42.4 516.6,37.0 C520.6,31.6 524.1,26.5 528.0,21.5 C531.9,16.5 538.0,9.4 540.0,7.0"/><path d="M412.0,93.0 C420.7,93.0 454.0,93.3 464.0,93.2 C474.0,93.1 469.6,93.0 472.0,92.6 C474.4,92.2 475.3,92.8 478.4,91.0 C481.5,89.2 486.9,84.8 490.7,81.7 C494.5,78.6 497.6,76.1 501.0,72.5 C504.4,68.9 506.8,65.4 511.0,60.0 C515.2,54.6 522.6,44.9 526.4,40.0 C530.1,35.1 531.1,33.8 533.5,30.7 C535.9,27.6 539.8,22.9 541.0,21.4"/><path d="M410.0,107.2 C419.0,107.2 453.3,107.3 464.0,107.0 C474.7,106.7 471.2,106.1 474.0,105.6 C476.8,105.1 477.7,105.0 480.5,104.2 C483.3,103.4 487.8,101.3 490.7,100.5 C493.6,99.7 495.8,100.4 498.0,99.5 C500.2,98.6 502.0,97.5 504.0,95.0 C506.0,92.5 507.8,88.2 510.0,84.8 C512.2,81.4 515.1,78.1 517.3,74.5 C519.5,70.9 521.0,67.4 523.4,63.3 C525.8,59.2 528.6,54.6 531.5,50.0 C534.4,45.4 539.4,38.1 541.0,35.7"/><path d="M385.0,119.8 C394.2,119.8 427.2,119.8 440.0,119.8 C452.8,119.8 456.7,119.9 462.0,119.6 C467.3,119.3 469.0,118.6 472.0,118.0 C475.0,117.4 476.7,116.3 480.0,116.0 C483.3,115.7 488.7,117.3 492.0,116.0 C495.3,114.7 497.3,111.5 500.0,108.0 C502.7,104.5 505.3,99.2 508.0,95.0 C510.7,90.8 513.3,87.3 516.0,83.0 C518.7,78.7 521.6,73.0 524.0,69.0 C526.4,65.0 527.7,63.5 530.5,59.2 C533.3,54.9 539.2,45.7 541.0,43.0"/><path d="M364.0,141.1 C375.0,141.1 416.7,141.6 430.0,141.1 C443.3,140.6 439.7,139.8 444.0,138.0 C448.3,136.2 452.0,132.8 456.0,130.0 C460.0,127.2 464.3,123.1 468.0,121.0 C471.7,118.9 474.3,117.9 478.0,117.5 C481.7,117.1 486.5,119.2 490.0,118.5 C493.5,117.8 495.8,116.3 499.0,113.0 C502.2,109.7 505.7,103.4 509.0,98.5 C512.3,93.6 515.7,88.5 519.0,83.5 C522.3,78.5 525.3,74.0 529.0,68.5 C532.7,63.0 539.0,53.5 541.0,50.5"/><path d="M364.0,164.3 C370.0,164.3 392.0,164.7 400.0,164.2 C408.0,163.7 408.8,162.6 412.0,161.5 C415.2,160.4 416.3,159.2 419.3,157.5 C422.3,155.8 426.6,153.3 430.0,151.0 C433.4,148.7 435.7,147.0 440.0,143.8 C444.3,140.6 451.0,135.5 456.0,132.0 C461.0,128.5 466.0,125.1 470.0,123.0 C474.0,120.9 476.5,120.0 480.0,119.5 C483.5,119.0 487.5,121.1 491.0,120.0 C494.5,118.9 497.7,116.6 501.0,113.0 C504.3,109.4 507.7,103.4 511.0,98.5 C514.3,93.6 517.7,88.5 521.0,83.5 C524.3,78.5 527.7,73.5 531.0,68.5 C534.3,63.5 539.3,56.0 541.0,53.5"/><path d="M364.0,189.9 C370.7,186.9 393.9,176.9 404.3,171.7 C414.7,166.5 420.6,162.5 426.5,158.9 C432.4,155.3 435.1,153.7 440.0,150.0 C444.9,146.3 451.0,140.8 456.0,137.0 C461.0,133.2 465.8,129.5 470.0,127.0 C474.2,124.5 477.3,122.9 481.0,122.0 C484.7,121.1 488.4,122.9 492.0,121.5 C495.6,120.1 499.1,117.3 502.5,113.5 C505.9,109.7 509.2,103.6 512.6,98.6 C516.0,93.6 519.3,88.6 522.6,83.6 C525.9,78.6 529.5,73.2 532.6,68.6 C535.7,64.0 539.6,58.1 541.0,56.0"/><path d="M364.0,199.9 C370.3,197.1 393.8,187.2 402.0,183.2 C410.2,179.2 408.9,178.8 413.0,176.0 C417.1,173.2 422.0,170.5 426.5,166.6 C431.0,162.7 435.1,157.1 440.0,152.5 C444.9,147.9 451.0,143.0 456.0,139.0 C461.0,135.0 465.8,131.1 470.0,128.5 C474.2,125.9 479.2,124.3 481.0,123.5"/><path d="M364.0,210.8 C370.0,208.1 392.5,198.2 400.0,194.6 C407.5,191.0 406.3,191.7 409.0,189.5 C411.7,187.3 413.3,184.5 416.0,181.5 C418.7,178.5 421.0,175.6 425.0,171.5 C429.0,167.4 434.1,162.5 440.0,157.2 C445.9,151.9 454.9,144.6 460.5,139.8 C466.1,135.0 470.2,131.0 473.8,128.5 C477.4,126.0 480.6,125.6 482.0,125.0"/><path d="M418.0,183.0 C420.0,181.2 425.7,176.4 430.0,172.5 C434.3,168.6 438.6,164.5 444.0,159.7 C449.4,154.8 457.4,148.0 462.5,143.4 C467.6,138.8 471.6,134.8 474.8,132.1 C478.1,129.4 480.8,128.3 482.0,127.5"/>
</g>
<g fill="#101010" stroke="none">
<polygon points="459.4,22.5 456.7,21.7 456.7,23.3"/><polygon points="479.9,22.4 477.2,21.7 477.2,23.3"/><polygon points="494.6,11.8 492.3,13.5 493.6,14.5"/><polygon points="457.4,35.1 454.7,34.2 454.7,35.8"/><polygon points="477.9,35.0 475.2,34.2 475.2,35.8"/><polygon points="494.6,25.4 492.2,27.0 493.4,28.0"/><polygon points="507.8,9.7 505.4,11.3 506.6,12.3"/><polygon points="452.4,50.5 449.7,49.7 449.7,51.2"/><polygon points="472.9,50.4 470.2,49.6 470.2,51.2"/><polygon points="490.3,41.9 487.8,43.5 489.0,44.5"/><polygon points="503.3,26.1 501.0,27.7 502.2,28.8"/><polygon points="516.7,10.6 514.3,12.1 515.5,13.2"/><polygon points="439.4,66.1 436.7,65.3 436.7,66.9"/><polygon points="459.9,66.1 457.2,65.3 457.2,66.9"/><polygon points="480.0,63.3 477.2,63.8 477.9,65.2"/><polygon points="495.2,49.7 492.8,51.3 494.0,52.3"/><polygon points="508.1,33.8 505.8,35.5 507.0,36.4"/><polygon points="520.7,17.6 518.3,19.2 519.5,20.2"/><polygon points="437.4,79.6 434.7,78.8 434.7,80.4"/><polygon points="457.9,79.7 455.2,78.9 455.2,80.5"/><polygon points="478.1,77.4 475.2,77.4 475.6,78.9"/><polygon points="494.4,65.0 491.8,66.3 492.9,67.5"/><polygon points="507.6,49.4 505.3,51.1 506.6,52.0"/><polygon points="519.7,32.8 517.4,34.6 518.7,35.5"/><polygon points="532.0,16.5 529.7,18.1 530.9,19.1"/><polygon points="427.4,93.1 424.7,92.3 424.7,93.9"/><polygon points="447.9,93.2 445.2,92.4 445.2,94.0"/><polygon points="468.4,93.2 465.7,92.4 465.7,94.0"/><polygon points="486.6,85.0 484.0,86.1 484.9,87.3"/><polygon points="502.0,71.5 499.5,72.9 500.6,74.0"/><polygon points="514.6,55.3 512.3,57.0 513.6,58.0"/><polygon points="527.1,39.1 524.8,40.8 526.1,41.8"/><polygon points="539.7,22.9 537.4,24.6 538.6,25.6"/><polygon points="431.4,107.2 428.7,106.4 428.7,108.0"/><polygon points="451.9,107.1 449.2,106.4 449.2,107.9"/><polygon points="472.4,106.4 469.6,105.9 469.8,107.5"/><polygon points="491.9,100.1 489.0,100.2 489.5,101.7"/><polygon points="507.5,89.2 505.5,91.3 506.9,92.0"/><polygon points="518.7,72.1 516.6,74.1 518.0,74.9"/><polygon points="528.8,54.3 526.7,56.2 528.1,57.0"/><polygon points="540.0,37.1 537.8,39.0 539.2,39.9"/><polygon points="408.4,119.8 405.7,119.0 405.7,120.6"/><polygon points="428.9,119.8 426.2,119.0 426.2,120.6"/><polygon points="449.4,119.8 446.7,119.0 446.7,120.6"/><polygon points="469.9,118.5 467.0,118.3 467.3,119.8"/><polygon points="490.0,116.5 487.3,115.7 487.3,117.3"/><polygon points="503.8,102.1 501.7,104.1 503.1,104.9"/><polygon points="514.8,84.9 512.6,86.7 514.0,87.6"/><polygon points="525.1,67.1 523.0,69.1 524.4,69.9"/><polygon points="536.4,50.0 534.3,51.9 535.6,52.8"/><polygon points="379.4,141.2 376.7,140.4 376.7,142.0"/><polygon points="399.9,141.3 397.2,140.5 397.2,142.1"/><polygon points="420.4,141.3 417.7,140.5 417.7,142.1"/><polygon points="440.9,139.9 438.0,139.9 438.4,141.4"/><polygon points="457.9,128.6 455.2,129.6 456.2,130.9"/><polygon points="475.2,117.9 472.3,118.0 472.8,119.5"/><polygon points="495.1,116.4 492.3,117.1 493.1,118.5"/><polygon points="507.7,100.4 505.6,102.3 506.9,103.2"/><polygon points="519.1,83.4 516.9,85.2 518.2,86.1"/><polygon points="530.5,66.3 528.3,68.1 529.6,69.0"/><polygon points="385.4,164.4 382.7,163.6 382.7,165.2"/><polygon points="405.9,163.6 403.1,163.1 403.3,164.7"/><polygon points="424.2,154.6 421.4,155.3 422.3,156.7"/><polygon points="441.1,143.0 438.4,144.0 439.4,145.3"/><polygon points="457.6,130.9 454.9,131.8 455.8,133.1"/><polygon points="475.3,120.6 472.4,120.9 473.1,122.4"/><polygon points="495.1,118.1 492.4,118.7 493.1,120.1"/><polygon points="508.3,102.6 506.2,104.5 507.5,105.4"/><polygon points="519.7,85.5 517.5,87.4 518.8,88.3"/><polygon points="531.0,68.5 528.8,70.3 530.2,71.2"/><polygon points="380.0,182.8 377.1,183.2 377.8,184.7"/><polygon points="398.6,174.4 395.8,174.8 396.5,176.3"/><polygon points="416.8,164.9 414.0,165.6 414.8,167.0"/><polygon points="434.2,154.1 431.5,154.9 432.3,156.3"/><polygon points="450.4,141.5 447.8,142.7 448.8,143.9"/><polygon points="466.7,129.1 464.0,130.0 464.9,131.3"/><polygon points="485.4,121.8 482.7,120.9 482.6,122.5"/><polygon points="502.9,113.1 500.4,114.6 501.6,115.7"/><polygon points="514.3,96.1 512.1,97.9 513.4,98.8"/><polygon points="525.6,79.0 523.5,80.9 524.8,81.8"/><polygon points="537.0,62.0 534.8,63.8 536.2,64.7"/><polygon points="382.8,191.8 379.9,192.2 380.6,193.6"/><polygon points="401.5,183.4 398.7,183.9 399.3,185.3"/><polygon points="418.7,172.3 415.9,173.2 416.8,174.5"/><polygon points="434.0,158.8 431.5,160.4 432.7,161.4"/><polygon points="448.9,144.8 446.2,145.9 447.3,147.2"/><polygon points="464.9,132.0 462.2,133.0 463.2,134.3"/><polygon points="379.9,203.7 377.1,204.1 377.7,205.5"/><polygon points="398.6,195.2 395.8,195.7 396.5,197.1"/><polygon points="414.7,183.1 412.3,184.7 413.6,185.7"/><polygon points="428.5,168.0 426.0,169.4 427.1,170.5"/><polygon points="443.6,154.1 441.0,155.3 442.0,156.5"/><polygon points="459.2,140.9 456.6,142.0 457.6,143.2"/><polygon points="474.9,127.7 472.2,128.7 473.2,129.9"/><polygon points="429.6,172.8 427.0,174.1 428.1,175.3"/><polygon points="444.8,159.0 442.2,160.3 443.3,161.4"/><polygon points="460.2,145.5 457.6,146.7 458.6,147.9"/><polygon points="475.3,131.7 472.7,132.8 473.7,134.1"/>
</g>
<g fill="none" stroke="#000" stroke-width="0.9">
<path d="M464.9,153.9 C465.0,154.1 465.1,154.4 465.1,154.6 C465.1,154.9 465.0,155.2 464.8,155.5 C464.7,155.8 464.5,156.2 464.2,156.5 C463.9,156.8 463.6,157.2 463.2,157.5 C462.9,157.9 462.5,158.2 462.0,158.5 C461.6,158.9 461.1,159.2 460.6,159.5 C460.1,159.7 459.6,160.0 459.1,160.2 C458.6,160.4 458.1,160.6 457.6,160.8 C457.1,160.9 456.7,161.0 456.2,161.1 C455.8,161.2 455.4,161.2 455.1,161.1 C454.7,161.1 454.4,161.0 454.2,160.9 C454.0,160.8 453.8,160.6 453.7,160.4 C453.6,160.3 453.5,160.0 453.5,159.8 C453.5,159.5 453.6,159.2 453.8,158.9 C453.9,158.6 454.1,158.2 454.4,157.9 C454.7,157.6 455.0,157.2 455.4,156.9 C455.7,156.5 456.1,156.2 456.6,155.9 C457.0,155.5 457.5,155.2 458.0,154.9 C458.5,154.7 459.0,154.4 459.5,154.2 C460.0,154.0 460.5,153.8 461.0,153.6 C461.5,153.5 461.9,153.4 462.4,153.3 C462.8,153.2 463.2,153.2 463.5,153.3 C463.9,153.3 464.2,153.4 464.4,153.5 C464.6,153.6 464.8,153.8 464.9,153.9Z"/><polygon points="431.6,176.8 452.6,161.8 462.6,152.5 467.5,150.3 469.6,152.0 468.5,156.0 464.0,163.0 458.2,168.0 446.0,172.7" stroke-linejoin="round"/><polygon points="410.5,191.0 427.2,178.6 449.3,162.0 462.0,151.0 469.3,144.8 474.3,142.6 473.5,147.0 467.0,159.5 463.8,167.3 459.0,170.6 436.0,180.8" stroke-linejoin="round"/>
</g>
</g>
<text x="376.5" y="16.3" class="b" font-size="6.48">pressure [Pa]</text>
<rect x="375.9" y="21" width="10.100000000000023" height="57.5" fill="url(#lg)"/>
<text x="391.2" y="25.40" font-size="6.65">1400</text>
<text x="391.2" y="33.47" font-size="6.65">1200</text>
<text x="391.2" y="41.54" font-size="6.65">1000</text>
<text x="391.2" y="49.61" font-size="6.65">800</text>
<text x="391.2" y="57.68" font-size="6.65">600</text>
<text x="391.2" y="65.75" font-size="6.65">400</text>
<text x="391.2" y="73.82" font-size="6.65">200</text>
<text x="391.2" y="81.89" font-size="6.65">0</text>
<line x1="344" y1="270" x2="550" y2="270" stroke="#f3f3f3" stroke-width="1"/>
<!-- axes -->
<g stroke="#808080" stroke-width="0.6" fill="none">
<line x1="364.5" y1="8" x2="364.5" y2="247.8"/>
<line x1="364.2" y1="247.8" x2="541" y2="247.8"/>
<line x1="364.6" y1="243.62" x2="367" y2="243.62"/><line x1="364.6" y1="234.81" x2="367" y2="234.81"/><line x1="364.6" y1="226.00" x2="368.6" y2="226.00"/><line x1="364.6" y1="217.19" x2="367" y2="217.19"/><line x1="364.6" y1="208.38" x2="367" y2="208.38"/><line x1="364.6" y1="199.57" x2="367" y2="199.57"/><line x1="364.6" y1="190.76" x2="367" y2="190.76"/><line x1="364.6" y1="181.95" x2="368.6" y2="181.95"/><line x1="364.6" y1="173.14" x2="367" y2="173.14"/><line x1="364.6" y1="164.33" x2="367" y2="164.33"/><line x1="364.6" y1="155.52" x2="367" y2="155.52"/><line x1="364.6" y1="146.71" x2="367" y2="146.71"/><line x1="364.6" y1="137.90" x2="368.6" y2="137.90"/><line x1="364.6" y1="129.09" x2="367" y2="129.09"/><line x1="364.6" y1="120.28" x2="367" y2="120.28"/><line x1="364.6" y1="111.47" x2="367" y2="111.47"/><line x1="364.6" y1="102.66" x2="367" y2="102.66"/><line x1="364.6" y1="93.85" x2="368.6" y2="93.85"/><line x1="364.6" y1="85.04" x2="367" y2="85.04"/><line x1="364.6" y1="76.23" x2="367" y2="76.23"/><line x1="364.6" y1="67.42" x2="367" y2="67.42"/><line x1="364.6" y1="58.61" x2="367" y2="58.61"/><line x1="364.6" y1="49.80" x2="368.6" y2="49.80"/><line x1="364.6" y1="40.99" x2="367" y2="40.99"/><line x1="364.6" y1="32.18" x2="367" y2="32.18"/><line x1="364.6" y1="23.37" x2="367" y2="23.37"/><line x1="364.6" y1="14.56" x2="367" y2="14.56"/>
<line x1="364.60" y1="247.8" x2="364.60" y2="243"/><line x1="373.40" y1="247.8" x2="373.40" y2="244.8"/><line x1="382.20" y1="247.8" x2="382.20" y2="244.8"/><line x1="391.00" y1="247.8" x2="391.00" y2="244.8"/><line x1="399.80" y1="247.8" x2="399.80" y2="244.8"/><line x1="408.60" y1="247.8" x2="408.60" y2="243"/><line x1="417.40" y1="247.8" x2="417.40" y2="244.8"/><line x1="426.20" y1="247.8" x2="426.20" y2="244.8"/><line x1="435.00" y1="247.8" x2="435.00" y2="244.8"/><line x1="443.80" y1="247.8" x2="443.80" y2="244.8"/><line x1="452.60" y1="247.8" x2="452.60" y2="243"/><line x1="461.40" y1="247.8" x2="461.40" y2="244.8"/><line x1="470.20" y1="247.8" x2="470.20" y2="244.8"/><line x1="479.00" y1="247.8" x2="479.00" y2="244.8"/><line x1="487.80" y1="247.8" x2="487.80" y2="244.8"/><line x1="496.60" y1="247.8" x2="496.60" y2="243"/><line x1="505.40" y1="247.8" x2="505.40" y2="244.8"/><line x1="514.20" y1="247.8" x2="514.20" y2="244.8"/><line x1="523.00" y1="247.8" x2="523.00" y2="244.8"/><line x1="531.80" y1="247.8" x2="531.80" y2="244.8"/><line x1="540.60" y1="247.8" x2="540.60" y2="243"/>
</g>
<g stroke="#a4a4a4" stroke-width="0.9" stroke-dasharray="7.5 2.5 3 3" fill="none">
<line x1="408.3" y1="199.5" x2="408.3" y2="247.8"/>
<line x1="500.7" y1="116" x2="500.7" y2="247.8"/>
</g>
<g font-size="8.6" text-anchor="end">
<text x="362.3" y="52.65">70</text><text x="362.3" y="96.70">60</text><text x="362.3" y="140.75">50</text><text x="362.3" y="184.80">40</text><text x="362.3" y="228.85">30</text>
</g>
<g font-size="8.6" text-anchor="middle">
<text x="364.60" y="257.2">70</text><text x="408.60" y="257.2">80</text><text x="452.60" y="257.2">90</text><text x="496.60" y="257.2">100</text><text x="540.60" y="257.2">110</text>
</g>
<text x="452" y="265.8" class="b" font-size="9.8" text-anchor="middle">x [mm]</text>
<text x="0" y="0" class="b" font-size="9.4" text-anchor="middle" transform="translate(352,128) rotate(-90)">y [mm]</text>
<g class="b" font-size="6.4">
<text x="502.5" y="116.6">Reattachment</text>
<text x="410" y="199">Separation</text>
<text x="422.5" y="221.7" font-size="7">[80 mm, 101 mm]</text>
</g>
<text x="447.3" y="287" class="s" font-size="10.2" text-anchor="middle">(<tspan font-weight="bold">b</tspan>)</text>
</svg>
</body></html>
